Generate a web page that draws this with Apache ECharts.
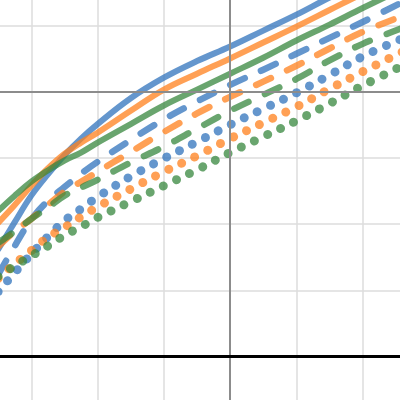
<!DOCTYPE html>
<html>
<head>
<meta charset="utf-8">
<script src="https://cdn.jsdelivr.net/npm/echarts@6/dist/echarts.min.js"></script>
<style>
html,body{margin:0;padding:0;background:#fff;width:400px;height:400px;overflow:hidden;position:relative;}
#chart{position:absolute;left:-35px;top:-41px;width:464px;height:464px;}
</style>
</head>
<body>
<div id="chart"></div>
<script>
// x positions (grid units)
var xs = [-3.5, -3.25, -3, -2.75, -2.5, -2.25, -2, -1.5, -1, -0.5, 0, 0.5, 1, 1.5, 2, 2.6];

// series values
var blueSolid    = [1.62, 2.03, 2.43, 2.75, 3.04, 3.29, 3.51, 3.90, 4.21, 4.46, 4.68, 4.92, 5.16, 5.42, 5.66, 5.95];
var orangeSolid  = [2.02, 2.29, 2.58, 2.84, 3.06, 3.23, 3.38, 3.71, 4.03, 4.27, 4.50, 4.74, 4.98, 5.23, 5.48, 5.76];
var greenSolid   = [2.20, 2.43, 2.64, 2.81, 2.96, 3.08, 3.23, 3.51, 3.79, 4.03, 4.27, 4.51, 4.77, 5.01, 5.26, 5.55];

var blueDashed   = [1.24, 1.67, 2.07, 2.35, 2.56, 2.76, 2.94, 3.27, 3.58, 3.85, 4.10, 4.33, 4.57, 4.81, 5.05, 5.35];
var orangeDashed = [1.66, 1.89, 2.08, 2.29, 2.49, 2.64, 2.79, 3.09, 3.39, 3.67, 3.92, 4.15, 4.39, 4.65, 4.90, 5.14];
var greenDashed  = [1.72, 1.89, 2.08, 2.25, 2.43, 2.55, 2.67, 2.93, 3.17, 3.44, 3.71, 3.95, 4.19, 4.47, 4.72, 4.96];

var blueDotted   = [0.98, 1.27, 1.55, 1.81, 2.05, 2.23, 2.41, 2.72, 2.99, 3.24, 3.50, 3.74, 3.98, 4.25, 4.53, 4.80];
var orangeDotted = [1.18, 1.40, 1.60, 1.80, 1.95, 2.11, 2.26, 2.53, 2.79, 3.03, 3.29, 3.53, 3.77, 4.04, 4.30, 4.60];
var greenDotted  = [1.21, 1.37, 1.52, 1.67, 1.83, 1.96, 2.10, 2.34, 2.58, 2.82, 3.08, 3.32, 3.56, 3.82, 4.09, 4.39];

var BLUE = 'rgb(48,115,188)';
var ORANGE = 'rgb(255,128,28)';
var GREEN = 'rgb(55,135,61)';

function pairs(ys){ return xs.map(function(x,i){ return [x, ys[i]]; }); }

function mk(name, ys, color, style){
  var ls = {color: color, opacity: 0.75, cap: 'round', join: 'round'};
  if (style === 'solid'){ ls.width = 6; ls.type = 'solid'; }
  else if (style === 'dashed'){ ls.width = 6.5; ls.type = [16, 18]; }
  else { ls.width = 9; ls.type = [0.01, 14.5]; }
  return {
    name: name, type: 'line', data: pairs(ys), smooth: 0.4,
    showSymbol: false, symbol: 'none', lineStyle: ls, z: 3, animation: false, silent: true
  };
}

var chart = echarts.init(document.getElementById('chart'), null, {renderer: 'canvas'});
chart.setOption({
  backgroundColor: '#fff',
  animation: false,
  grid: {left: 0, top: 0, right: 0, bottom: 0, containLabel: false},
  xAxis: {
    type: 'value', min: -4, max: 3, interval: 1,
    axisLine: {show: false}, axisTick: {show: false}, axisLabel: {show: false},
    splitLine: {show: true, lineStyle: {color: '#dcdcdc', width: 1.5}}
  },
  yAxis: {
    type: 'value', min: -1, max: 6, interval: 1,
    axisLine: {show: false}, axisTick: {show: false}, axisLabel: {show: false},
    splitLine: {show: true, lineStyle: {color: '#dcdcdc', width: 1.5}}
  },
  series: [
    {
      type: 'line', data: [], z: 1, silent: true,
      markLine: {
        silent: true, symbol: 'none', label: {show: false}, animation: false,
        data: [
          {xAxis: 0, lineStyle: {color: '#8c8c8c', width: 2, type: 'solid'}},
          {yAxis: 4, lineStyle: {color: '#8c8c8c', width: 2, type: 'solid'}},
          {yAxis: 0, lineStyle: {color: '#000', width: 3, type: 'solid'}}
        ]
      }
    },
    mk('blue solid', blueSolid, BLUE, 'solid'),
    mk('orange solid', orangeSolid, ORANGE, 'solid'),
    mk('green solid', greenSolid, GREEN, 'solid'),
    mk('blue dashed', blueDashed, BLUE, 'dashed'),
    mk('orange dashed', orangeDashed, ORANGE, 'dashed'),
    mk('green dashed', greenDashed, GREEN, 'dashed'),
    mk('blue dotted', blueDotted, BLUE, 'dotted'),
    mk('orange dotted', orangeDotted, ORANGE, 'dotted'),
    mk('green dotted', greenDotted, GREEN, 'dotted')
  ]
});
</script>
</body>
</html>
